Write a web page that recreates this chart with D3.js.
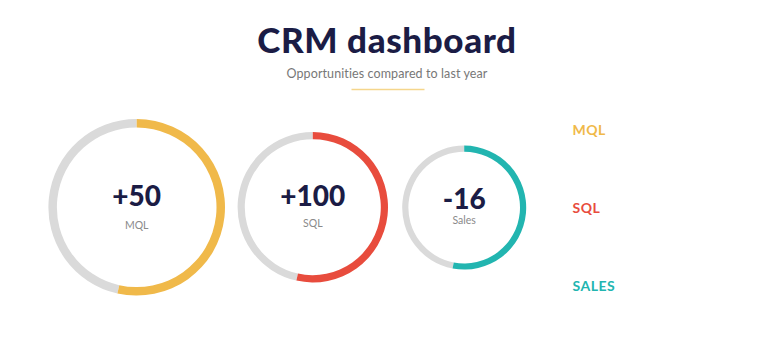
<!DOCTYPE html>
<html>
<head>
<meta charset="utf-8">
<script src="https://cdn.jsdelivr.net/npm/d3@7"></script>
<style>
  html, body { margin: 0; padding: 0; background: #fff; }
  svg { display: block; }
</style>
</head>
<body>
<svg id="chart" width="768" height="360"></svg>
<script>
// ---- data ----
const categories = ["MQL", "SQL", "Sales"];
const changes = [50, 100, -16];
const progress = [0.535, 0.535, 0.53];
const legendLabels = ["MQL", "SQL", "SALES"];
const colors = ["#f0b94a", "#e84c3d", "#22b5b0"];
const titleText = "CRM dashboard";
const subtitleText = "Opportunities compared to last year";

// ---- layout (not data) ----
const W = 768, H = 360;
const ring = [
  { cx: 136.7, cy: 207.3, r: 88.3, w: 8.5 },
  { cx: 312.8, cy: 207.2, r: 75.2, w: 7.2 },
  { cx: 464.2, cy: 207.6, r: 62.0, w: 6.2 }
];
const legendY = d3.scalePoint().domain(legendLabels).range([130, 286]);
const FONT = "Lato, 'Open Sans', sans-serif";
const NAVY = "#1b1c45";

const svg = d3.select("#chart");

// title
svg.append("text")
  .attr("x", 387).attr("y", 52.5)
  .attr("text-anchor", "middle")
  .attr("font-family", FONT).attr("font-weight", 900)
  .attr("font-size", 35).attr("fill", NAVY)
  .attr("letter-spacing", 0.6)
  .text(titleText);

svg.append("text")
  .attr("x", 387).attr("y", 77.5)
  .attr("text-anchor", "middle")
  .attr("font-family", FONT).attr("font-weight", 400)
  .attr("font-size", 12.5).attr("fill", "#777")
  .attr("letter-spacing", 0.1)
  .text(subtitleText);

svg.append("line")
  .attr("x1", 351.5).attr("x2", 424.5)
  .attr("y1", 89.5).attr("y2", 89.5)
  .attr("stroke", "#f5d68c").attr("stroke-width", 1.6);

const fmt = d3.format("+d");
const angle = d3.scaleLinear().domain([0, 1]).range([0, 2 * Math.PI]);

categories.forEach((c, i) => {
  const g = ring[i];
  const grp = svg.append("g").attr("transform", `translate(${g.cx},${g.cy})`);
  const arc = d3.arc().innerRadius(g.r - g.w).outerRadius(g.r);
  grp.append("path")
    .attr("d", arc({ startAngle: angle(progress[i]), endAngle: angle(1) }))
    .attr("fill", "#dadada");
  grp.append("path")
    .attr("d", arc({ startAngle: angle(0), endAngle: angle(progress[i]) }))
    .attr("fill", colors[i]);
  grp.append("text")
    .attr("x", 0).attr("y", i === 2 ? 1.5 : -1.5)
    .attr("text-anchor", "middle")
    .attr("font-family", FONT).attr("font-weight", 900)
    .attr("font-size", 28).attr("fill", NAVY)
    .text(changes[i] < 0 ? "-" + Math.abs(changes[i]) : fmt(changes[i]));
  grp.append("text")
    .attr("x", 0).attr("y", i === 2 ? 16.8 : (i === 1 ? 19.5 : 21.5))
    .attr("text-anchor", "middle")
    .attr("font-family", FONT).attr("font-weight", 400)
    .attr("font-size", 10.5).attr("fill", "#8a8a8a")
    .text(c);
});

legendLabels.forEach((l, i) => {
  svg.append("text")
    .attr("x", 572.5).attr("y", legendY(l) + 5)
    .attr("font-family", FONT).attr("font-weight", 700)
    .attr("font-size", 14).attr("fill", colors[i])
    .attr("letter-spacing", 0.5)
    .text(l);
});
</script>
</body>
</html>
